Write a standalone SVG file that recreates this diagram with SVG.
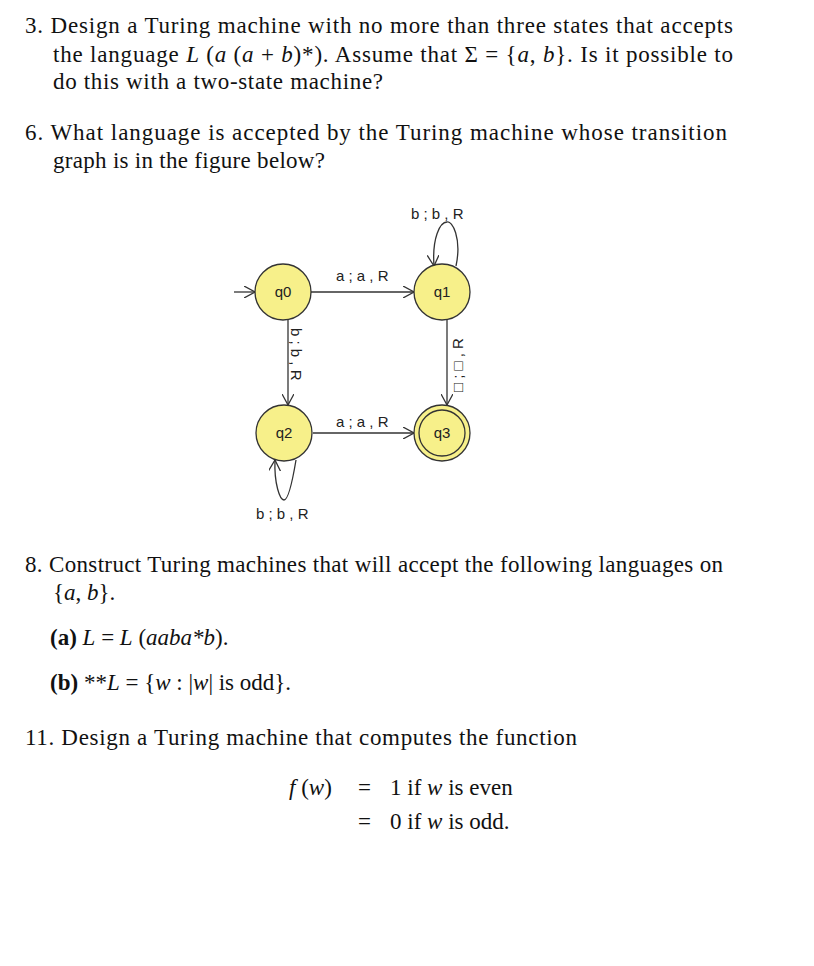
<svg xmlns="http://www.w3.org/2000/svg" width="814" height="966" viewBox="0 0 814 966">
<style>
.t{font-family:"Liberation Serif",serif;font-size:23px;fill:#111}
.i{font-style:italic}
.n{fill:#f7f08a;stroke:#333;stroke-width:1.3}
.l{font-family:"Liberation Sans",Arial,sans-serif;font-size:15px;fill:#222}
.c{fill:none;stroke:#333;stroke-width:1.3}
</style>
<defs><marker id="a" viewBox="0 0 12 12" refX="11" refY="6" markerWidth="12" markerHeight="12" markerUnits="userSpaceOnUse" orient="auto"><path d="M0,0 L11,6 L0,12" fill="none" stroke="#333" stroke-width="1.3"/></marker></defs>
<rect width="814" height="966" fill="#fff"/>
<text class="t" x="25" y="33" textLength="708" lengthAdjust="spacing">3. Design a Turing machine with no more than three states that accepts</text>
<text class="t" x="53" y="62" textLength="680" lengthAdjust="spacing">the language <tspan class="i">L</tspan> (<tspan class="i">a</tspan> (<tspan class="i">a</tspan> + <tspan class="i">b</tspan>)*). Assume that Σ = {<tspan class="i">a</tspan>, <tspan class="i">b</tspan>}. Is it possible to</text>
<text class="t" x="53" y="89" textLength="330" lengthAdjust="spacing">do this with a two-state machine?</text>
<text class="t" x="25" y="140" textLength="702" lengthAdjust="spacing">6. What language is accepted by the Turing machine whose transition</text>
<text class="t" x="53" y="168" textLength="272" lengthAdjust="spacing">graph is in the figure below?</text>
<g id="edges">
<line class="c" x1="234" y1="292" x2="255" y2="292" marker-end="url(#a)"/>
<line class="c" x1="311" y1="292" x2="414" y2="292" marker-end="url(#a)"/>
<line class="c" x1="288" y1="320" x2="288" y2="405" marker-end="url(#a)"/>
<line class="c" x1="447" y1="320" x2="447" y2="405" marker-end="url(#a)"/>
<line class="c" x1="313" y1="433" x2="414" y2="433" marker-end="url(#a)"/>
<path class="c" d="M456,266 C462,238 452,220 447,222 C440,222 432,238 434,266" marker-end="url(#a)"/>
<path class="c" d="M296,460 C292,484 288,500 284,500 C280,500 274,484 275,460" marker-end="url(#a)"/>
<text class="l" x="411" y="219">b ; b , R</text>
<text class="l" x="336" y="281">a ; a , R</text>
<text class="l" x="336" y="427">a ; a , R</text>
<text class="l" x="256" y="519">b ; b , R</text>
<text class="l" transform="translate(291,328) rotate(90)">b ; b , R</text>
<text class="l" transform="translate(463,392) rotate(-90)">□ ; □ , R</text>
</g>
<g id="q0"><circle class="n" cx="283" cy="292" r="28"/><text class="l" x="283" y="297" text-anchor="middle">q0</text></g>
<g id="q1"><circle class="n" cx="442" cy="292" r="28"/><text class="l" x="442" y="297" text-anchor="middle">q1</text></g>
<g id="q2"><circle class="n" cx="284" cy="433" r="28"/><text class="l" x="284" y="438" text-anchor="middle">q2</text></g>
<g id="q3"><circle class="n" cx="442" cy="433" r="28"/><circle class="c" cx="442" cy="433" r="23"/><text class="l" x="442" y="438" text-anchor="middle">q3</text></g>
<text class="t" x="25" y="572" textLength="698" lengthAdjust="spacing">8. Construct Turing machines that will accept the following languages on</text>
<text class="t" x="53" y="600">{<tspan class="i">a</tspan>, <tspan class="i">b</tspan>}.</text>
<text class="t" x="50" y="645"><tspan font-weight="bold">(a)</tspan>  <tspan class="i">L</tspan> = <tspan class="i">L</tspan> (<tspan class="i">aaba*b</tspan>).</text>
<text class="t" x="50" y="690"><tspan font-weight="bold">(b)</tspan>  **<tspan class="i">L</tspan> = {<tspan class="i">w</tspan> : |<tspan class="i">w</tspan>| is odd}.</text>
<text class="t" x="25" y="745" textLength="552" lengthAdjust="spacing">11. Design a Turing machine that computes the function</text>
<text class="t" x="289" y="795"><tspan class="i">f</tspan> (<tspan class="i">w</tspan>)</text>
<text class="t" x="358" y="795">=</text>
<text class="t" x="390" y="795">1 if <tspan class="i">w</tspan> is even</text>
<text class="t" x="358" y="829">=</text>
<text class="t" x="390" y="829">0 if <tspan class="i">w</tspan> is odd.</text>
</svg>
